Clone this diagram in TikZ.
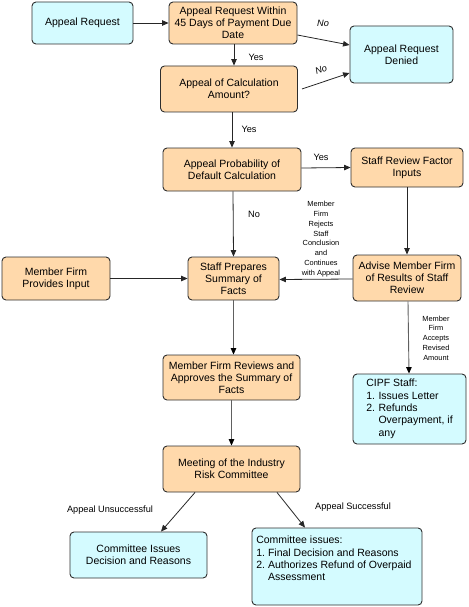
\documentclass[tikz,border=0pt]{standalone}
\usepackage{fontspec}
\setmainfont{Liberation Sans}
\usetikzlibrary{arrows.meta,calc}
\definecolor{peach}{HTML}{FFD9AB}
\definecolor{icecyan}{HTML}{D4FBFF}
\definecolor{edgegray}{HTML}{2E2E2E}
\definecolor{linegray}{HTML}{606060}
\tikzset{
  basebox/.style={draw=edgegray, line width=0.9pt, rounded corners=4pt, align=center,
    inner sep=2pt, font=\fontsize{10.5}{12}\selectfont},
  obox/.style={basebox, fill=peach},
  cbox/.style={basebox, fill=icecyan},
  conn/.style={draw=black!85, line width=0.8pt, -{Triangle[length=6.5pt,width=5.5pt]}},
  gconn/.style={draw=linegray, line width=0.9pt, -{Triangle[length=6.5pt,width=5.5pt,color=black]}},
  lbl/.style={font=\fontsize{9.2}{11}\selectfont, inner sep=0pt},
  smalllbl/.style={font=\fontsize{7.4}{9.8}\selectfont, align=center, inner sep=0pt},
}
\begin{document}
\begin{tikzpicture}[x=1pt,y=-1pt]
\useasboundingbox (0,0) rectangle (468,607);

% nodes
\node[cbox, minimum width=101, minimum height=42] (req) at (82.5,23) {Appeal Request};
\node[obox, minimum width=128, minimum height=42] (within) at (233,23) {Appeal Request Within\\45 Days of Payment Due\\Date};
\node[cbox, minimum width=103, minimum height=57] (denied) at (401.5,54.5) {Appeal Request\\Denied};
\node[obox, minimum width=137, minimum height=46] (calc) at (229,89) {Appeal of Calculation\\Amount?};
\node[obox, minimum width=138, minimum height=43] (prob) at (232,169.5) {Appeal Probability of\\Default Calculation};
\node[obox, minimum width=112, minimum height=39] (staffrev) at (407,167.5) {Staff Review Factor\\Inputs};
\node[obox, minimum width=108, minimum height=43] (mfinput) at (56,278.5) {Member Firm\\Provides Input};
\node[obox, minimum width=91, minimum height=43] (prep) at (233.5,278.5) {Staff Prepares\\Summary of\\Facts};
\node[obox, minimum width=108, minimum height=46] (advise) at (407,278) {Advise Member Firm\\of Results of Staff\\Review};
\node[obox, minimum width=137, minimum height=45] (reviews) at (231.5,377.5) {Member Firm Reviews and\\Approves the Summary of\\Facts};
\node[cbox, minimum width=113, minimum height=70, align=left] (cipf) at (409.5,409) {%
  \fontsize{10.5}{12.3}\selectfont
  \begin{tabular}{@{}l@{\hspace{3.5pt}}l@{}}
  \multicolumn{2}{@{}l@{}}{CIPF Staff:\hspace{50pt}}\\
  1.&Issues Letter\\
  2.&Refunds\\
  &Overpayment, if\\
  &any
  \end{tabular}};
\node[obox, minimum width=137, minimum height=46] (meeting) at (231.5,469) {Meeting of the Industry\\Risk Committee};
\node[cbox, minimum width=137, minimum height=46] (unsucc) at (138.5,555) {Committee Issues\\Decision and Reasons};
\node[cbox, minimum width=170, minimum height=77] (succ) at (337,566.5) {};
\node[anchor=north west, inner sep=0pt, align=left] (succtext) at ([shift={(4.5,7.5)}]succ.north west) {%
  \fontsize{10.5}{12.3}\selectfont
  \begin{tabular}{@{}l@{\hspace{3pt}}l@{}}
  \multicolumn{2}{@{}l@{}}{Committee issues:}\\
  1.&Final Decision and Reasons\\
  2.&Authorizes Refund of Overpaid\\
  &Assessment
  \end{tabular}};

% connectors
\draw[conn] (req.east) -- (within.west);
\draw[conn] ([yshift=-12pt]within.east) -- ([yshift=9.5pt]denied.west);
\node[lbl, font=\fontsize{9.2}{11}\selectfont\itshape] (no1) at (323,23) {No};
\draw[conn] ([xshift=1pt]within.south) -- ([xshift=5pt]calc.north);
\node[lbl] (yes1) at (256,57) {Yes};
\draw[conn] ([xshift=4pt]calc.east) -- ([yshift=-18.5pt]denied.west);
\node[lbl, font=\fontsize{9.2}{11}\selectfont\itshape, rotate=20] (no2) at (321,70) {No};
\draw[conn] ([xshift=3pt]calc.south) -- (prob.north);
\node[lbl] (yes2) at (249,129) {Yes};
\draw[conn] ([yshift=1.5pt]prob.east) -- (staffrev.west);
\node[lbl] (yes3) at (321,157) {Yes};
\draw[conn] ([xshift=1pt]prob.south) -- (prep.north);
\node[lbl] (no3) at (254,214) {No};
\draw[conn] (staffrev.south) -- (advise.north);
\draw[conn] ([yshift=-1pt]advise.west) -- ([yshift=-1pt]prep.east);
\node[smalllbl] (rejects) at (321,239) {Member\\Firm\\Rejects\\Staff\\Conclusion\\and\\Continues\\with Appeal};
\draw[conn] (mfinput.east) -- (prep.west);
\draw[gconn] (prep.south) -- ([xshift=2pt]reviews.north);
\draw[gconn] (reviews.south) -- (meeting.north);
\draw[gconn] ([xshift=1pt]advise.south) -- ([xshift=-0.5pt]cipf.north);
\node[smalllbl] (accepts) at (436,338) {Member\\Firm\\Accepts\\Revised\\Amount};
\draw[conn] ([xshift=-36.5pt]meeting.south) -- ([xshift=22.5pt]unsucc.north);
\node[lbl] (lunsucc) at (110,510) {Appeal Unsuccessful};
\draw[conn] ([xshift=45.5pt]meeting.south) -- ([xshift=-32pt]succ.north);
\node[lbl] (lsucc) at (353,507) {Appeal Successful};
\end{tikzpicture}
\end{document}
